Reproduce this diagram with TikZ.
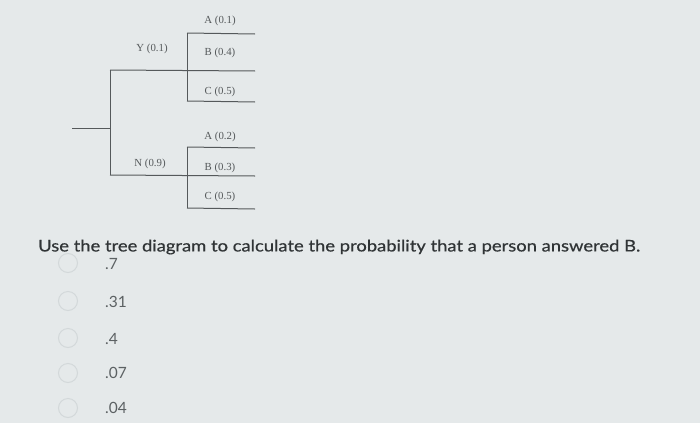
\documentclass[tikz,border=0pt]{standalone}
\usepackage{fontspec}
\setmainfont{Liberation Serif}
\newfontfamily\latofont{Lato}
\newfontfamily\latoq[FakeBold=0.5]{Lato}
\definecolor{bgc}{HTML}{E5E9EA}
\definecolor{treec}{HTML}{55595B}
\definecolor{txtc}{HTML}{303436}
\definecolor{optc}{HTML}{5C6163}
\definecolor{circc}{HTML}{D3D8DA}
\tikzset{
  tree/.style={draw=treec, line width=1pt},
  tlabel/.style={text=treec, font=\fontsize{10.8}{12}\selectfont, inner sep=0pt},
  opt/.style={text=optc, font=\latofont\fontsize{15.5}{17}\selectfont, anchor=west, inner sep=0pt},
  radio/.style={draw=circc, line width=1pt, circle, minimum size=19pt, inner sep=0pt}
}
\begin{document}
\begin{tikzpicture}[x=1pt,y=-1pt]
\fill[bgc] (0,0) rectangle (700,423);
\useasboundingbox (0,0) rectangle (700,423);
% tree coordinates
\coordinate (r0) at (72,128);
\coordinate (r1) at (110,128);
\coordinate (ytop) at (110,70);
\coordinate (nbot) at (110,175);
\coordinate (yend) at (255,71);
\coordinate (nend) at (255,176);
\coordinate (ya0) at (187,33);
\coordinate (ya1) at (255,34);
\coordinate (yc0) at (187,101);
\coordinate (yc1) at (255,102);
\coordinate (na0) at (187,147);
\coordinate (na1) at (255,148);
\coordinate (nc0) at (187,208);
\coordinate (nc1) at (255,209);
\draw[tree] (r0) -- (r1);
\draw[tree] (ytop) -- (nbot);
\draw[tree] (ytop) -- (yend);
\draw[tree] (nbot) -- (nend);
\draw[tree] (ya0) -- (yc0);
\draw[tree] (ya0) -- (ya1);
\draw[tree] (yc0) -- (yc1);
\draw[tree] (na0) -- (nc0);
\draw[tree] (na0) -- (na1);
\draw[tree] (nc0) -- (nc1);
% labels
\node[tlabel] (ly) at (152,49) {Y (0.1)};
\node[tlabel] (ln) at (150,164) {N (0.9)};
\node[tlabel] (lya) at (220,21) {A (0.1)};
\node[tlabel] (lyb) at (220,53) {B (0.4)};
\node[tlabel] (lyc) at (220,92) {C (0.5)};
\node[tlabel] (lna) at (220,137) {A (0.2)};
\node[tlabel] (lnb) at (220,168) {B (0.3)};
\node[tlabel] (lnc) at (220,197) {C (0.5)};
% question
\node[text=txtc, anchor=west, inner sep=0pt] (q) at (38,247) {\scalebox{1.15}[1]{\latoq\fontsize{16}{18}\selectfont Use the tree diagram to calculate the probability that a person answered B.}};
% options
\node[radio] (c1) at (68,263) {};
\node[radio] (c2) at (68,301) {};
\node[radio] (c3) at (68,338) {};
\node[radio] (c4) at (68,373) {};
\node[radio] (c5) at (68,408) {};
\node[opt] (o1) at (105,264) {.7};
\node[opt] (o2) at (105,302) {.31};
\node[opt] (o3) at (105,339) {.4};
\node[opt] (o4) at (105,373) {.07};
\node[opt] (o5) at (105,408) {.04};
\end{tikzpicture}
\end{document}
